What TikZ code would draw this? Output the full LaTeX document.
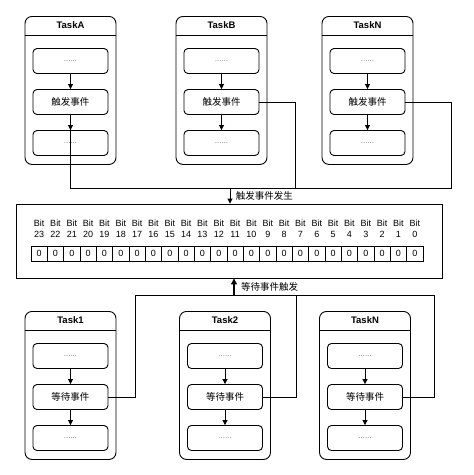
\documentclass[tikz,border=0pt]{standalone}
\usepackage{fontspec}
\setmainfont{Liberation Sans}
\newfontfamily\cjk{Noto Sans CJK SC}
\usetikzlibrary{arrows.meta,positioning}
\tikzset{
  taskbox/.style={draw,line width=0.9pt,rounded corners=7pt,minimum width=91pt,minimum height=148pt,inner sep=0pt},
  stepbox/.style={draw,line width=0.9pt,rounded corners=4pt,minimum width=75pt,minimum height=25pt,inner sep=0pt,font=\cjk\fontsize{9.5}{10}\selectfont},
  dotbox/.style={stepbox,text=gray,font=\fontsize{8}{9}\selectfont},
  bitcell/.style={draw,line width=0.8pt,minimum width=16.33pt,minimum height=15pt,inner sep=0pt,font=\fontsize{9}{10}\selectfont},
  flow/.style={line width=0.9pt,-{Triangle[length=5pt,width=5pt]}},
}
\begin{document}
\begin{tikzpicture}[x=1pt,y=-1pt]
\useasboundingbox (0,0) rectangle (474,475);

% tasks: centre x / top y / name / title / middle step
\foreach \cx/\top/\name/\title/\mid in {70.5/16/ta/TaskA/触发事件, 221.5/16/tb/TaskB/触发事件, 367.5/16/tn/TaskN/触发事件,
    70.5/311/wa/Task1/等待事件, 225/311/wb/Task2/等待事件, 365/311/wn/TaskN/等待事件} {
  \node[taskbox,anchor=north] (\name) at (\cx,\top) {};
  \node[font=\bfseries\fontsize{9.5}{10}\selectfont] at (\cx,\top+9.5) {\title};
  \draw[line width=0.9pt] ([yshift=-19pt]\name.north west) -- ([yshift=-19pt]\name.north east);
  \node[dotbox] (\name-1) at (\cx,\top+45) {......};
  \node[stepbox] (\name-2) at (\cx,\top+86) {\mid};
  \node[dotbox] (\name-3) at (\cx,\top+127) {......};
  \draw[flow] (\name-1) -- (\name-2);
  \draw[flow] (\name-2) -- (\name-3);
}

% event bits
\node[draw,line width=0.9pt,minimum width=426pt,minimum height=74pt] (bits) at (229,241) {};
\foreach \i in {0,...,23} {
  \node[bitcell] (c\i) at ({39.17+16.33*(23-\i)},253.5) {0};
  \node[align=center,inner sep=0pt,font=\fontsize{9}{11}\selectfont] at ({39.17+16.33*(23-\i)},228.5) {Bit\\\i};
}

% set events
\coordinate (setbus) at (230,188);
\draw[line width=0.8pt] (ta-2.south) |- (setbus);
\draw[line width=0.8pt] (tb-2.east) -- ++(36,0) |- (setbus);
\draw[line width=0.8pt] (tn-2.east) -- ++(46,0) |- (setbus);
\draw[flow] (setbus) -- (bits.north -| setbus) node[midway,right=2pt,font=\cjk\fontsize{9.5}{10}\selectfont] {触发事件发生};

% wait events
\coordinate (waitbus) at (234,295);
\draw[line width=0.8pt] (wa-2.east) -- ++(27,0) |- (waitbus);
\draw[line width=0.8pt] (wb-2.east) -- ++(33,0) |- (waitbus);
\draw[line width=0.8pt] (wn-2.east) -- ++(31,0) |- (waitbus);
\draw[line width=1.8pt,-{Triangle[length=6pt,width=6pt]}] (waitbus) -- (bits.south -| waitbus) node[midway,right=3pt,font=\cjk\fontsize{9.5}{10}\selectfont] {等待事件触发};
\end{tikzpicture}
\end{document}
